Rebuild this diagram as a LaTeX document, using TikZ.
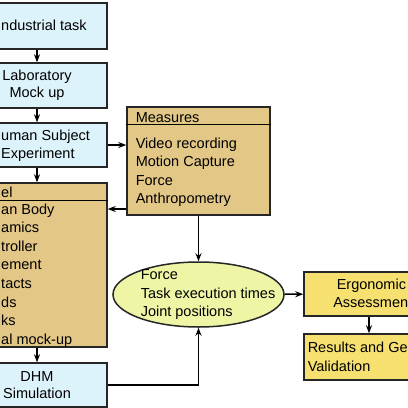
\documentclass[tikz,border=0pt]{standalone}
\usepackage{fontspec}
\setmainfont{Liberation Sans}
\usetikzlibrary{arrows.meta,shapes.geometric}
\definecolor{hsblue}{HTML}{DDF3FB}
\definecolor{hstan}{HTML}{E3C787}
\definecolor{hslime}{HTML}{EEF6A6}
\definecolor{hsyellow}{HTML}{F6E170}
\begin{document}
\begin{tikzpicture}[x=1pt,y=-1pt,>={Stealth[length=8pt,width=6pt]},line width=1.5pt]
  \tikzstyle{box}=[draw=black!85, rectangle, inner sep=0pt, align=center,
    font=\fontsize{14.5}{17}\selectfont]
  \tikzstyle{txt}=[inner sep=0pt, text height=10pt, text depth=3pt,
    font=\fontsize{14.5}{18.5}\selectfont]
  \tikzstyle{lst}=[inner sep=0pt, align=left, font=\fontsize{14.5}{18.5}\selectfont]

  \useasboundingbox (0,0) rectangle (408,408);
  \clip (0,0) rectangle (408,408);

  % left column
  \node[box, fill=hsblue, minimum width=140, minimum height=46] (ind) at (37,26) {};
  \node[txt, anchor=west] (indt) at (0.5,27) {ndustrial task};
  \node[box, fill=hsblue, minimum width=140, minimum height=45] (lab) at (37,85.5) {Laboratory\\Mock up};
  \node[box, fill=hsblue, minimum width=140, minimum height=44] (hum) at (37,145) {};
  \node[txt, anchor=west] (humt1) at (0.5,137) {uman Subject};
  \node[txt, anchor=west] (humt2) at (0.5,155) {Experiment};
  \node[box, fill=hstan, minimum width=140, minimum height=164] (mod) at (37,265) {};
  \draw ([yshift=-18pt]mod.north west) -- ([yshift=-18pt]mod.north east);
  \node[txt, anchor=west] (modt) at (0.5,194) {el};
  \foreach \t [count=\i] in {an Body, amics, troller, ement,
      tacts, ds, ks, al mock-up} {
    \node[txt, anchor=west] (modl\i) at (0.5,{210.5+18.6*(\i-1)}) {\t};
  }
  \node[box, fill=hsblue, minimum width=140, minimum height=44] (dhm) at (37,385) {DHM\\Simulation};

  % measures and outcomes
  \node[box, fill=hstan, minimum width=143, minimum height=108] (meas) at (198.5,161) {};
  \draw ([yshift=-18pt]meas.north west) -- ([yshift=-18pt]meas.north east);
  \node[txt, anchor=west] (meast) at (135,118.5) {Measures};
  \node[lst, anchor=north west] (measl) at (135,137) {Video recording\\Motion Capture\\Force\\Anthropometry};
  \node[ellipse, draw=black!85, fill=hslime, minimum width=171, minimum height=65, inner sep=0pt] (outc) at (198.5,294.5) {};
  \node[lst, anchor=west] (outt) at (140,295) {Force\\Task execution times\\Joint positions};

  % right column
  \node[box, fill=hsyellow, minimum width=130, minimum height=44] (ergo) at (369,294) {};
  \node[txt, anchor=west] (ergot1) at (336,286) {Ergonomic};
  \node[txt, anchor=west] (ergot2) at (332.5,304) {Assessmen};
  \node[box, fill=hsyellow, minimum width=130, minimum height=46] (res) at (369,357) {};
  \node[txt, anchor=west] (rest1) at (307,349) {Results and Ge};
  \node[txt, anchor=west] (rest2) at (307,368) {Validation};

  \draw[->] (ind) -- (lab);
  \draw[->] (lab) -- (hum);
  \draw[->] (hum) -- (mod);
  \draw[->] (mod) -- (dhm);
  \draw[->] (hum.east) -- (hum.east -| meas.west);
  \draw[->] ([yshift=-48pt]meas.west) -- ([yshift=-48pt]meas.west -| mod.east);
  \draw[->] (meas) -- (outc);
  \draw[->] (dhm.east) -| (outc.south);
  \draw[->] (outc) -- (ergo);
  \draw[->] (ergo) -- (res);
\end{tikzpicture}
\end{document}
